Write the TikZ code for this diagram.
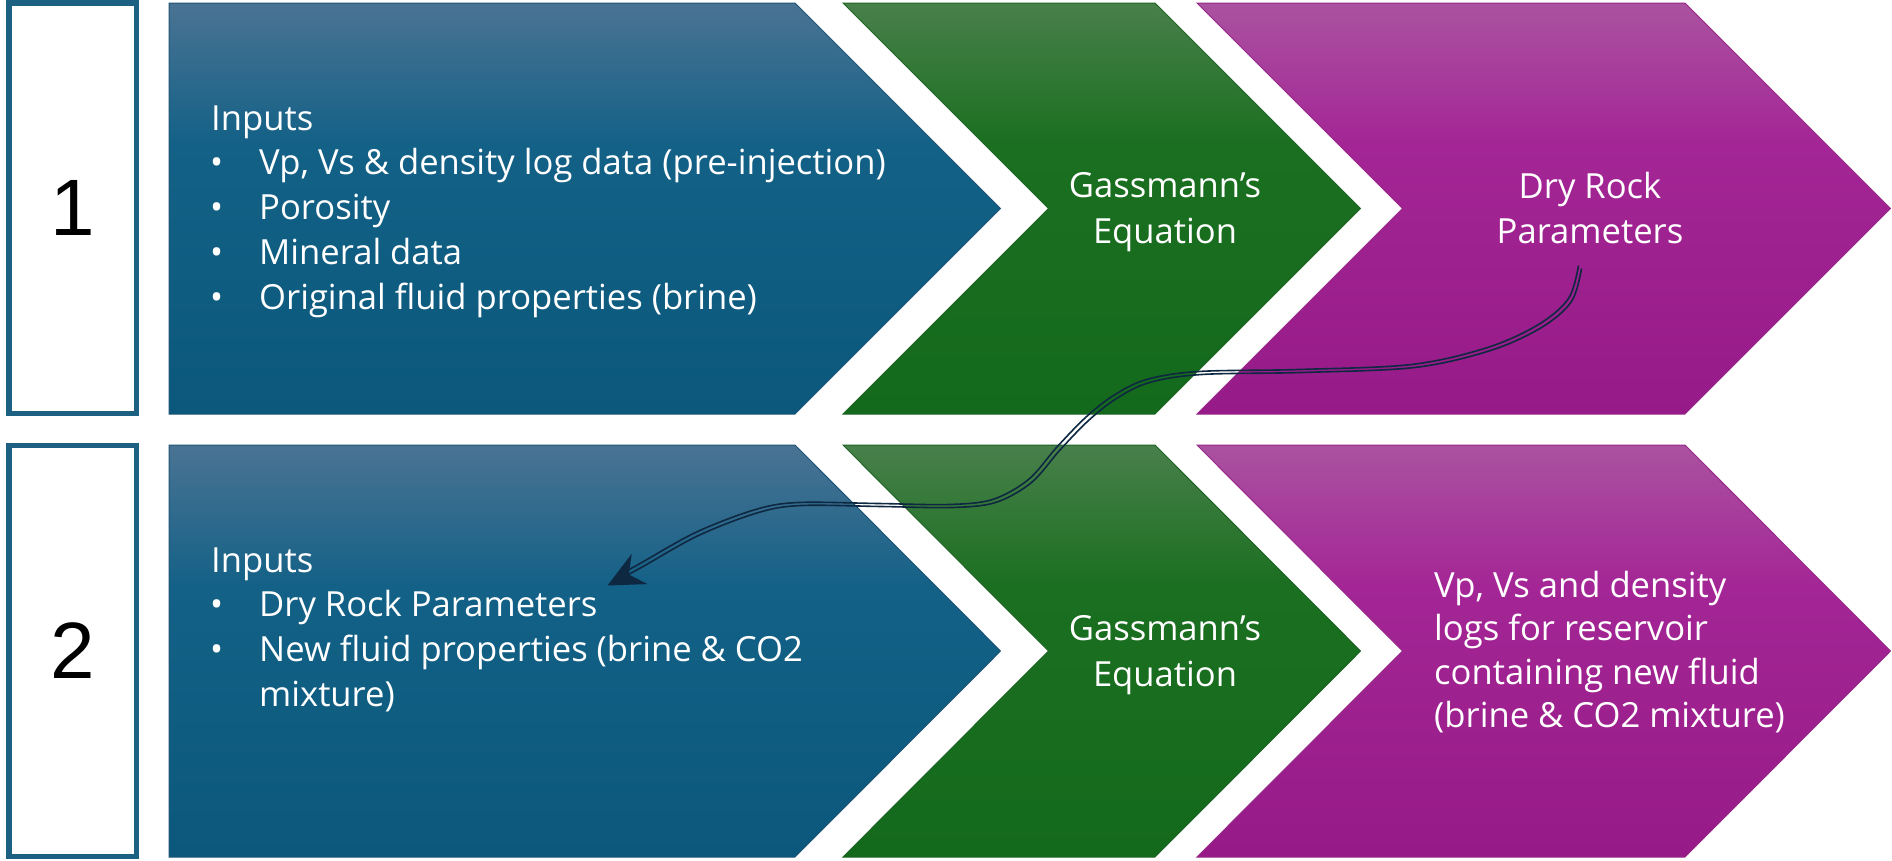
\documentclass[tikz,border=0pt]{standalone}
\usepackage{fontspec}
\setmainfont{Open Sans}
\newfontfamily\digitfont{Liberation Sans}
\usetikzlibrary{arrows.meta}

\definecolor{boxc}{RGB}{28,96,130}
\definecolor{bTop}{RGB}{74,115,147}
\definecolor{bMid}{RGB}{20,97,135}
\definecolor{bBot}{RGB}{11,88,124}
\definecolor{bEdge}{RGB}{30,85,118}
\definecolor{gTop}{RGB}{72,128,74}
\definecolor{gMid}{RGB}{27,111,33}
\definecolor{gBot}{RGB}{20,106,28}
\definecolor{gEdge}{RGB}{30,100,36}
\definecolor{pTop}{RGB}{170,82,160}
\definecolor{pMid}{RGB}{164,38,150}
\definecolor{pBot}{RGB}{150,26,135}
\definecolor{pEdge}{RGB}{150,40,138}
\definecolor{connc}{RGB}{14,40,65}

\pgfdeclareverticalshading{blueshade}{100bp}{color(0bp)=(bBot); color(25bp)=(bBot); color(58bp)=(bMid); color(75bp)=(bTop); color(100bp)=(bTop)}
\pgfdeclareverticalshading{greenshade}{100bp}{color(0bp)=(gBot); color(25bp)=(gBot); color(58bp)=(gMid); color(75bp)=(gTop); color(100bp)=(gTop)}
\pgfdeclareverticalshading{purpleshade}{100bp}{color(0bp)=(pBot); color(25bp)=(pBot); color(58bp)=(pMid); color(75bp)=(pTop); color(100bp)=(pTop)}

\begin{document}
\begin{tikzpicture}[x=1pt,y=1pt,
  numbox/.style={draw=boxc, line width=5.5pt, fill=white, inner sep=0pt,
    minimum width=127.6pt, minimum height=410.7pt,
    font=\digitfont\fontsize{80}{96}\selectfont, text=black},
  bluechev/.style={shading=blueshade, draw=bEdge, line width=1pt},
  greenchev/.style={shading=greenshade, draw=gEdge, line width=1pt},
  purplechev/.style={shading=purpleshade, draw=pEdge, line width=1pt},
  txt/.style={text=white, inner sep=0pt, font=\fontsize{34.6}{45}\selectfont},
  lefttxt/.style={txt, anchor=base west},
  midtxt/.style={txt, anchor=base},
  conline/.style={draw=connc, line width=1.6pt, line join=round}
]
\useasboundingbox (0,0) rectangle (1892,-860);

% number boxes
\node[numbox] (n1) at (72.7,-208.15) {1};
\node[numbox] (n2) at (72.7,-651) {2};

% chevrons, two rows
\foreach \t/\b/\m in {3/414/208.5, 445/857/651}{
  \draw[bluechev] (169,-\t) -- (795,-\t) -- (1000.5,-\m) -- (795,-\b) -- (169,-\b) -- cycle;
  \draw[greenchev] (843,-\t) -- (1155,-\t) -- (1360.5,-\m) -- (1155,-\b) -- (843,-\b) -- (1048.5,-\m) -- cycle;
  \draw[purplechev] (1197,-\t) -- (1685,-\t) -- (1890.5,-\m) -- (1685,-\b) -- (1197,-\b) -- (1402.5,-\m) -- cycle;
}

% row 1 texts
\node[lefttxt] (r1in) at (211,-130) {Inputs};
\node[lefttxt] (r1a) at (210,-174.8) {\makebox[49pt][l]{•}Vp, Vs \& density log data (pre-injection)};
\node[lefttxt] (r1b) at (210,-219.6) {\makebox[49pt][l]{•}Porosity};
\node[lefttxt] (r1c) at (210,-264.4) {\makebox[49pt][l]{•}Mineral data};
\node[lefttxt] (r1d) at (210,-309.2) {\makebox[49pt][l]{•}Original fluid properties (brine)};
\node[midtxt] (g1a) at (1165,-197) {Gassmann’s};
\node[midtxt] (g1b) at (1165,-243) {Equation};
\node[midtxt] (p1a) at (1590,-198) {Dry Rock};
\node[midtxt] (p1b) at (1590,-243) {Parameters};

% row 2 texts
\node[lefttxt] (r2in) at (211,-572) {Inputs};
\node[lefttxt] (r2a) at (210,-616.8) {\makebox[49pt][l]{•}Dry Rock Parameters};
\node[lefttxt] (r2b) at (210,-661.6) {\makebox[49pt][l]{•}New fluid properties (brine \& CO2};
\node[lefttxt] (r2c) at (259,-706.4) {mixture)};
\node[midtxt] (g2a) at (1165,-640) {Gassmann’s};
\node[midtxt] (g2b) at (1165,-686) {Equation};
\node[lefttxt] (p2a) at (1434,-597) {Vp, Vs and density};
\node[lefttxt] (p2b) at (1434,-640.5) {logs for reservoir};
\node[lefttxt] (p2c) at (1434,-684) {containing new fluid};
\node[lefttxt] (p2d) at (1434,-727) {(brine \& CO2 mixture)};

% connector (double line)
\coordinate (cs) at (1580,-267);
\coordinate (ce) at (606,-584);
\draw[conline, transform canvas={shift={(1.5pt,-1.5pt)}}, -{Stealth[length=36pt,width=34pt,inset=12pt]}]
  plot[smooth, tension=0.55] coordinates {(cs) (1570,-300) (1540,-326) (1489,-349) (1413,-366) (1300,-371) (1200,-373) (1148,-381) (1115,-397) (1087,-419) (1058,-449) (1030,-481) (994,-501) (950,-506) (880,-505) (800,-504) (757,-511) (697,-534) (638,-567) (ce)};
\draw[conline, transform canvas={shift={(-1.5pt,1.5pt)}}, shorten >=20pt]
  plot[smooth, tension=0.55] coordinates {(cs) (1570,-300) (1540,-326) (1489,-349) (1413,-366) (1300,-371) (1200,-373) (1148,-381) (1115,-397) (1087,-419) (1058,-449) (1030,-481) (994,-501) (950,-506) (880,-505) (800,-504) (757,-511) (697,-534) (638,-567) (ce)};
\end{tikzpicture}
\end{document}
